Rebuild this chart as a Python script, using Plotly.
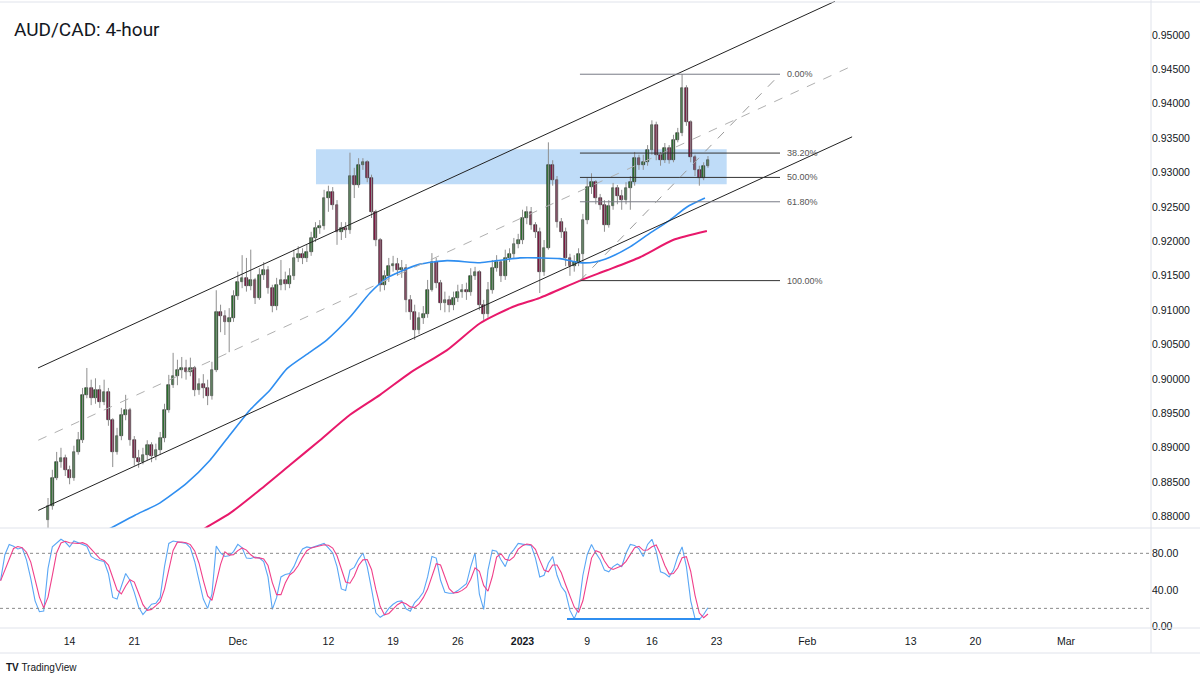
import plotly.graph_objects as go

TITLE = "AUD/CAD: 4-hour"

# ---- price bars (8-hour bars); x = trading day, 0 = Mon 14 Nov 2022 ----
bar_t0 = -5 / 3
bar_step = 1 / 3

open_ = [
    0.8795, 0.8815, 0.8856, 0.8879, 0.8885, 0.8868, 0.8856, 0.8894, 0.8911, 0.8977,
    0.8987, 0.8972, 0.8984, 0.8967, 0.8981, 0.8940, 0.8894, 0.8917, 0.8948, 0.8955,
    0.8911, 0.8885, 0.8879, 0.8890, 0.8904, 0.8888, 0.8897, 0.8914, 0.8955, 0.8991,
    0.9004, 0.9013, 0.9016, 0.9010, 0.9016, 0.8984, 0.8993, 0.8987, 0.8975, 0.9013,
    0.9097, 0.9092, 0.9083, 0.9089, 0.9121, 0.9141, 0.9147, 0.9135, 0.9144, 0.9118,
    0.9151, 0.9158, 0.9132, 0.9106, 0.9137, 0.9144, 0.9138, 0.9150, 0.9176, 0.9182,
    0.9176, 0.9185, 0.9205, 0.9220, 0.9222, 0.9263, 0.9272, 0.9253, 0.9214, 0.9220,
    0.9217, 0.9295, 0.9282, 0.9311, 0.9315, 0.9292, 0.9243, 0.9202, 0.9137, 0.9150,
    0.9164, 0.9167, 0.9158, 0.9161, 0.9115, 0.9097, 0.9071, 0.9089, 0.9095, 0.9129,
    0.9170, 0.9140, 0.9110, 0.9115, 0.9108, 0.9118, 0.9127, 0.9129, 0.9127, 0.9150,
    0.9156, 0.9108, 0.9095, 0.9129, 0.9161, 0.9170, 0.9150, 0.9176, 0.9182, 0.9196,
    0.9202, 0.9234, 0.9243, 0.9224, 0.9214, 0.9156, 0.9190, 0.9311, 0.9289, 0.9228,
    0.9214, 0.9176, 0.9164, 0.9170, 0.9182, 0.9231, 0.9279, 0.9286, 0.9263, 0.9253,
    0.9224, 0.9251, 0.9278, 0.9266, 0.9260, 0.9278, 0.9286, 0.9321, 0.9311, 0.9315,
    0.9333, 0.9369, 0.9326, 0.9318, 0.9336, 0.9318, 0.9347, 0.9358, 0.9423, 0.9374,
    0.9323, 0.9304, 0.9292, 0.9310,
]
high = [
    0.8827, 0.8868, 0.8894, 0.8900, 0.8890, 0.8874, 0.8903, 0.8923, 0.8987, 0.9016,
    0.8999, 0.9001, 0.8991, 0.8999, 0.8987, 0.8943, 0.8929, 0.8958, 0.8977, 0.8958,
    0.8917, 0.8897, 0.8900, 0.8911, 0.8908, 0.8906, 0.8923, 0.8964, 0.9006, 0.9038,
    0.9028, 0.9032, 0.9028, 0.9031, 0.9019, 0.9001, 0.9007, 0.8999, 0.9025, 0.9129,
    0.9108, 0.9100, 0.9103, 0.9129, 0.9156, 0.9180, 0.9176, 0.9188, 0.9147, 0.9161,
    0.9170, 0.9164, 0.9137, 0.9147, 0.9173, 0.9156, 0.9161, 0.9188, 0.9193, 0.9190,
    0.9195, 0.9214, 0.9228, 0.9231, 0.9275, 0.9281, 0.9279, 0.9260, 0.9228, 0.9228,
    0.9329, 0.9307, 0.9321, 0.9321, 0.9318, 0.9297, 0.9246, 0.9205, 0.9158, 0.9176,
    0.9179, 0.9176, 0.9173, 0.9167, 0.9122, 0.9108, 0.9097, 0.9106, 0.9144, 0.9183,
    0.9176, 0.9144, 0.9127, 0.9121, 0.9127, 0.9137, 0.9138, 0.9140, 0.9161, 0.9163,
    0.9158, 0.9115, 0.9141, 0.9173, 0.9180, 0.9173, 0.9188, 0.9190, 0.9205, 0.9211,
    0.9246, 0.9251, 0.9250, 0.9228, 0.9220, 0.9202, 0.9344, 0.9318, 0.9295, 0.9234,
    0.9220, 0.9182, 0.9180, 0.9190, 0.9240, 0.9292, 0.9299, 0.9289, 0.9269, 0.9260,
    0.9260, 0.9285, 0.9282, 0.9275, 0.9286, 0.9295, 0.9330, 0.9326, 0.9326, 0.9340,
    0.9376, 0.9374, 0.9330, 0.9343, 0.9340, 0.9355, 0.9365, 0.9443, 0.9427, 0.9376,
    0.9326, 0.9310, 0.9315, 0.9324,
]
low = [
    0.8783, 0.8810, 0.8853, 0.8871, 0.8859, 0.8847, 0.8852, 0.8890, 0.8907, 0.8972,
    0.8962, 0.8964, 0.8958, 0.8962, 0.8932, 0.8872, 0.8890, 0.8911, 0.8940, 0.8903,
    0.8874, 0.8871, 0.8876, 0.8882, 0.8879, 0.8882, 0.8890, 0.8908, 0.8951, 0.8987,
    0.8991, 0.9001, 0.8999, 0.9004, 0.8975, 0.8977, 0.8972, 0.8962, 0.8970, 0.9010,
    0.9068, 0.9064, 0.9039, 0.9083, 0.9115, 0.9132, 0.9127, 0.9129, 0.9109, 0.9115,
    0.9144, 0.9124, 0.9097, 0.9100, 0.9129, 0.9129, 0.9132, 0.9144, 0.9170, 0.9167,
    0.9170, 0.9179, 0.9199, 0.9211, 0.9217, 0.9243, 0.9246, 0.9195, 0.9202, 0.9205,
    0.9211, 0.9263, 0.9278, 0.9304, 0.9286, 0.9234, 0.9193, 0.9127, 0.9129, 0.9141,
    0.9156, 0.9150, 0.9147, 0.9097, 0.9086, 0.9057, 0.9065, 0.9080, 0.9089, 0.9127,
    0.9132, 0.9100, 0.9097, 0.9097, 0.9100, 0.9112, 0.9118, 0.9115, 0.9121, 0.9144,
    0.9100, 0.9086, 0.9089, 0.9124, 0.9156, 0.9141, 0.9144, 0.9170, 0.9176, 0.9190,
    0.9196, 0.9225, 0.9217, 0.9205, 0.9125, 0.9150, 0.9188, 0.9281, 0.9220, 0.9205,
    0.9164, 0.9150, 0.9156, 0.9164, 0.9143, 0.9225, 0.9269, 0.9254, 0.9246, 0.9214,
    0.9220, 0.9246, 0.9254, 0.9246, 0.9254, 0.9246, 0.9281, 0.9304, 0.9304, 0.9310,
    0.9326, 0.9318, 0.9310, 0.9314, 0.9313, 0.9315, 0.9344, 0.9353, 0.9368, 0.9315,
    0.9295, 0.9281, 0.9289, 0.9307,
]
close = [
    0.8815, 0.8856, 0.8879, 0.8885, 0.8868, 0.8856, 0.8894, 0.8911, 0.8977, 0.8987,
    0.8972, 0.8984, 0.8967, 0.8981, 0.8940, 0.8894, 0.8917, 0.8948, 0.8955, 0.8911,
    0.8885, 0.8879, 0.8890, 0.8904, 0.8888, 0.8897, 0.8914, 0.8955, 0.8991, 0.9004,
    0.9013, 0.9016, 0.9010, 0.9016, 0.8984, 0.8993, 0.8987, 0.8975, 0.9013, 0.9097,
    0.9092, 0.9083, 0.9089, 0.9121, 0.9141, 0.9147, 0.9135, 0.9144, 0.9118, 0.9151,
    0.9158, 0.9132, 0.9106, 0.9137, 0.9144, 0.9138, 0.9150, 0.9176, 0.9182, 0.9176,
    0.9185, 0.9205, 0.9220, 0.9222, 0.9263, 0.9272, 0.9253, 0.9214, 0.9220, 0.9217,
    0.9295, 0.9282, 0.9311, 0.9315, 0.9292, 0.9243, 0.9202, 0.9137, 0.9150, 0.9164,
    0.9167, 0.9158, 0.9161, 0.9115, 0.9097, 0.9071, 0.9089, 0.9095, 0.9129, 0.9170,
    0.9140, 0.9110, 0.9115, 0.9108, 0.9118, 0.9127, 0.9129, 0.9127, 0.9150, 0.9156,
    0.9108, 0.9095, 0.9129, 0.9161, 0.9170, 0.9150, 0.9176, 0.9182, 0.9196, 0.9202,
    0.9234, 0.9243, 0.9224, 0.9214, 0.9156, 0.9190, 0.9311, 0.9289, 0.9228, 0.9214,
    0.9176, 0.9164, 0.9170, 0.9182, 0.9231, 0.9279, 0.9286, 0.9263, 0.9253, 0.9224,
    0.9251, 0.9278, 0.9266, 0.9260, 0.9278, 0.9286, 0.9321, 0.9311, 0.9315, 0.9333,
    0.9369, 0.9326, 0.9318, 0.9336, 0.9318, 0.9347, 0.9358, 0.9423, 0.9374, 0.9323,
    0.9304, 0.9292, 0.9310, 0.9318,
]

# ---- stochastic oscillator (same 8-hour grid, starting earlier) ----
stoch_t0 = -16 / 3
stoch_k = [
    50.6, 78.5, 89.7, 87.8, 84.8, 86.0, 72.9, 52.4, 28.2, 16.3, 17.0,
    63.6, 87.0, 91.6, 95.3, 92.3, 87.0, 93.4, 91.6, 89.7, 87.8,
    76.6, 73.7, 72.2, 71.1, 58.0, 31.9, 30.1, 45.0, 58.0, 50.6,
    37.5, 21.5, 13.3, 18.9, 24.5, 25.6, 31.9, 65.5, 90.8, 93.4,
    92.3, 91.6, 90.8, 86.0, 71.1, 50.6, 30.1, 20.0, 35.6, 87.8,
    80.4, 76.6, 77.4, 81.9, 89.7, 86.0, 74.8, 74.4, 75.9, 74.8,
    71.1, 54.3, 18.9, 31.9, 54.3, 56.9, 58.0, 65.5, 76.6, 84.8,
    87.0, 86.0, 87.8, 89.7, 90.8, 86.0, 80.4, 65.5, 41.2, 39.4,
    61.7, 64.7, 73.7, 80.4, 65.5, 41.2, 15.1, 10.3, 13.3, 20.0,
    24.5, 27.4, 28.2, 19.6, 17.0, 26.3, 31.2, 37.5, 54.3, 76.6,
    74.8, 50.6, 37.5, 36.4, 36.4, 39.4, 43.1, 46.8, 65.5, 80.4,
    35.6, 18.9, 61.7, 83.4, 82.2, 72.9, 65.5, 78.5, 84.1, 90.8,
    90.0, 89.7, 88.6, 74.8, 54.3, 56.1, 69.2, 76.6, 56.1, 43.8,
    37.5, 17.8, 8.8, 20.0, 56.1, 78.5, 89.7, 80.4, 72.9, 61.7,
    59.9, 65.5, 68.4, 65.5, 80.0, 89.7, 88.6, 84.8, 76.6, 89.7,
    95.3, 82.2, 59.9, 58.0, 54.3, 61.7, 76.6, 87.0, 65.5, 28.2,
    8.8, 7.7, 13.3, 20.7,
]
stoch_d = [
    50.0, 62.0, 73.0, 85.3, 87.4, 86.2, 81.2, 70.4, 51.2, 32.3, 20.5,
    32.3, 55.9, 80.7, 91.3, 93.1, 91.5, 90.9, 90.7, 91.6, 89.7,
    84.7, 79.4, 74.2, 72.3, 67.1, 53.7, 40.0, 35.7, 44.4, 51.2,
    48.7, 36.5, 24.1, 17.9, 18.9, 23.0, 27.3, 41.0, 62.7, 83.2,
    92.2, 92.4, 91.6, 89.5, 82.6, 69.2, 50.6, 33.6, 28.6, 47.8,
    68.0, 81.6, 78.1, 78.6, 83.0, 85.9, 83.5, 78.4, 75.0, 75.0,
    73.9, 66.7, 48.1, 35.0, 35.0, 47.7, 56.4, 60.1, 66.7, 75.6,
    82.8, 85.9, 86.9, 87.8, 89.4, 88.8, 85.7, 77.3, 62.4, 48.7,
    47.4, 55.3, 66.7, 72.9, 73.2, 62.4, 40.6, 22.2, 12.9, 14.5,
    19.3, 24.0, 26.7, 25.1, 21.6, 21.0, 24.8, 31.7, 41.0, 56.1,
    68.6, 67.3, 54.3, 41.5, 36.8, 37.4, 39.6, 43.1, 51.8, 64.2,
    60.5, 45.0, 38.7, 54.7, 75.8, 79.5, 73.5, 72.3, 76.0, 84.5,
    88.3, 90.2, 89.4, 84.4, 72.6, 61.7, 59.9, 67.3, 67.3, 58.8,
    45.8, 33.0, 21.4, 15.5, 28.3, 51.5, 74.8, 82.9, 81.0, 71.7,
    64.8, 62.4, 64.6, 66.5, 71.3, 78.4, 86.1, 87.7, 83.3, 83.7,
    87.2, 89.1, 79.1, 66.7, 57.4, 58.0, 64.2, 75.1, 76.4, 60.2,
    34.2, 14.9, 9.9, 13.9,
]

# ---- moving averages (trading day, price) ----
sma_blue_t = [2.35, 3.35, 5.05, 6.99, 9.07, 10.85, 12.40, 13.94, 15.49, 16.80,
              18.58, 19.89, 21.67, 23.21, 24.53, 25.53, 27.08, 29.17, 31.72, 33.03,
              34.81, 36.35, 37.90, 39.44, 40.60, 41.76, 43.31, 44.85, 46.40, 47.71, 49.10]
sma_blue = [0.8775, 0.8785, 0.8802, 0.8820, 0.8849, 0.8882, 0.8919, 0.8955, 0.8984, 0.9015,
            0.9039, 0.9057, 0.9090, 0.9125, 0.9147, 0.9156, 0.9167, 0.9172, 0.9169, 0.9172,
            0.9176, 0.9176, 0.9175, 0.9169, 0.9170, 0.9177, 0.9192, 0.9212, 0.9231, 0.9250, 0.9263]
sma_pink_t = [9.69, 10.46, 12.40, 14.71, 17.03, 19.35, 21.67, 23.99, 26.31, 29.17,
              31.72, 34.27, 36.35, 39.44, 41.53, 44.08, 46.63, 49.25]
sma_pink = [0.8773, 0.8783, 0.8805, 0.8839, 0.8875, 0.8911, 0.8948, 0.8977, 0.9009, 0.9042,
            0.9081, 0.9105, 0.9118, 0.9143, 0.9158, 0.9177, 0.9202, 0.9215]

# ---- drawings ----
channel_upper = [(-2.44, 0.9016), (59.15, 0.9549)]
channel_lower = [(-2.42, 0.8809), (60.47, 0.9352)]
channel_mid = [(-2.42, 0.8911), (60.47, 0.9455)]
zone_t = (19.04, 50.78)
zone_price = (0.9283, 0.9334)
fib_t = (39.44, 54.90)
fib_low, fib_high = 0.9143, 0.9443
fib_levels = [0.0, 0.382, 0.5, 0.618, 1.0]
fib_labels = ["0.00%", "38.20%", "50.00%", "61.80%", "100.00%"]
fib_colors = ["#787b86", "#333333", "#333333", "#787b86", "#333333"]
div_t = (38.44, 48.72)
div_level = 8.5

# ---- axes ----
tick_days = [0, 5, 13, 20, 25, 30, 35, 40, 45, 50, 57, 65, 70, 77]
tick_text = ["14", "21", "Dec", "12", "19", "26", "<b>2023</b>", "9", "16", "23",
             "Feb", "13", "20", "Mar"]
price_ticks = [0.880, 0.885, 0.890, 0.895, 0.900, 0.905, 0.910, 0.915, 0.920,
               0.925, 0.930, 0.935, 0.940, 0.945, 0.950]
stoch_ticks = [0, 40, 80]
stoch_bands = [80, 20]

# ---------------------------------------------------------------------------
bar_t = [bar_t0 + i * bar_step for i in range(len(close))]
stoch_t = [stoch_t0 + i * bar_step for i in range(len(stoch_k))]

W, H = 1200, 675
ML, MR, MT, MB = 0, 49, 0, 47
plot_h = H - MT - MB
split = 100 / plot_h

fig = go.Figure()

# wicks
wx, wy = [], []
for t, h, l in zip(bar_t, high, low):
    wx += [t, t, None]
    wy += [l, h, None]
fig.add_trace(go.Scatter(x=wx, y=wy, mode="lines", line=dict(color="#8f8f8f", width=1),
                         hoverinfo="skip", xaxis="x", yaxis="y"))
# bodies
body_col = ["#2a7a2e" if c >= o else "#8a1848" for o, c in zip(open_, close)]
fig.add_trace(go.Bar(x=bar_t, base=open_, y=[c - o for o, c in zip(open_, close)],
                     width=0.21, marker=dict(color=body_col, line=dict(color="#1a1a1a", width=0.6)),
                     hoverinfo="skip", xaxis="x", yaxis="y"))
# moving averages
fig.add_trace(go.Scatter(x=sma_blue_t, y=sma_blue, mode="lines",
                         line=dict(color="#2f8ef0", width=1.6, shape="spline", smoothing=0.6),
                         hoverinfo="skip", xaxis="x", yaxis="y"))
fig.add_trace(go.Scatter(x=sma_pink_t, y=sma_pink, mode="lines",
                         line=dict(color="#e8196b", width=2, shape="spline", smoothing=0.6),
                         hoverinfo="skip", xaxis="x", yaxis="y"))
# stochastic
fig.add_trace(go.Scatter(x=stoch_t, y=stoch_k, mode="lines", line=dict(color="#5aa7f5", width=1.1),
                         hoverinfo="skip", xaxis="x2", yaxis="y2"))
fig.add_trace(go.Scatter(x=stoch_t, y=stoch_d, mode="lines", line=dict(color="#f0408a", width=1.1),
                         hoverinfo="skip", xaxis="x2", yaxis="y2"))

shapes = []
# zone
shapes.append(dict(type="rect", xref="x", yref="y", x0=zone_t[0], x1=zone_t[1],
                   y0=zone_price[0], y1=zone_price[1], fillcolor="#bfdcf8",
                   line=dict(width=0), layer="below"))
# channel
for (a, b), dash, col in [(channel_upper, "solid", "#222222"), (channel_lower, "solid", "#222222"),
                          (channel_mid, "dash", "#b0b0b0")]:
    shapes.append(dict(type="line", xref="x", yref="y", x0=a[0], y0=a[1], x1=b[0], y1=b[1],
                       line=dict(color=col, width=1, dash=dash)))
# fib
annotations = []
for lv, lab, col in zip(fib_levels, fib_labels, fib_colors):
    p = fib_high - lv * (fib_high - fib_low)
    shapes.append(dict(type="line", xref="x", yref="y", x0=fib_t[0], x1=fib_t[1], y0=p, y1=p,
                       line=dict(color=col, width=1)))
    annotations.append(dict(x=fib_t[1] + 0.35, y=p, xref="x", yref="y", text=lab, showarrow=False,
                            xanchor="left", yanchor="middle",
                            font=dict(family="Liberation Sans", size=9, color="#555555")))
shapes.append(dict(type="line", xref="x", yref="y", x0=fib_t[0], y0=fib_low, x1=fib_t[1], y1=fib_high,
                   line=dict(color="#9a9a9a", width=1, dash="dash")))
# stochastic bands + divergence line
for b in stoch_bands:
    shapes.append(dict(type="line", xref="paper", yref="y2", x0=0, x1=1, y0=b, y1=b,
                       line=dict(color="#8a8a8a", width=1, dash="3px,3px")))
shapes.append(dict(type="line", xref="x2", yref="y2", x0=div_t[0], x1=div_t[1], y0=div_level,
                   y1=div_level, line=dict(color="#2f8ef0", width=2)))
# frame lines
pw = W - ML - MR
xr = 1 + MR / pw
for ypx in [2, 528, 628, 653]:
    yp = (plot_h - ypx) / plot_h
    shapes.append(dict(type="line", xref="paper", yref="paper", x0=0, x1=xr, y0=yp, y1=yp,
                       line=dict(color="#e0e3eb", width=1)))
shapes.append(dict(type="line", xref="paper", yref="paper", x0=1, x1=1, y0=(plot_h - 653) / plot_h,
                   y1=1, line=dict(color="#e0e3eb", width=1)))

annotations.append(dict(x=12 / pw, y=(plot_h - 30) / plot_h, xref="paper", yref="paper",
                        text=TITLE, showarrow=False, xanchor="left", yanchor="middle",
                        font=dict(family="Roboto", size=19, color="#131722")))
annotations.append(dict(x=4 / pw, y=(plot_h - 667) / plot_h, xref="paper", yref="paper",
                        text="<b>TV</b> TradingView", showarrow=False, xanchor="left", yanchor="middle",
                        font=dict(family="Liberation Sans", size=10, color="#131722")))

xr_days = [-69.6 / 12.94, (pw - 69.6) / 12.94]
axis_font = dict(family="Liberation Sans", size=10.5, color="#131722")
fig.update_layout(
    width=W, height=H, margin=dict(l=ML, r=MR, t=MT, b=MB),
    paper_bgcolor="white", plot_bgcolor="white", showlegend=False, bargap=0,
    shapes=shapes, annotations=annotations,
    xaxis=dict(domain=[0, 1], range=xr_days, anchor="y", showticklabels=False, showgrid=False,
               zeroline=False, showline=False, ticks=""),
    xaxis2=dict(domain=[0, 1], range=xr_days, anchor="y2", matches="x", tickvals=tick_days,
                ticktext=tick_text, showgrid=False, zeroline=False, showline=False, ticks="",
                tickfont=axis_font, ticklabelstandoff=5),
    yaxis=dict(domain=[split, 1], range=[0.87834, 0.95509], side="right", tickvals=price_ticks,
               ticktext=[f"{v:.5f}" for v in price_ticks], showgrid=False, zeroline=False,
               showline=False, ticks="", tickfont=axis_font),
    yaxis2=dict(domain=[0, split], range=[-1.4, 107.6], side="right", tickvals=stoch_ticks,
                ticktext=[f"{v:.2f}" for v in stoch_ticks], showgrid=False, zeroline=False,
                showline=False, ticks="", tickfont=axis_font),
)

fig.write_html("out.html")
